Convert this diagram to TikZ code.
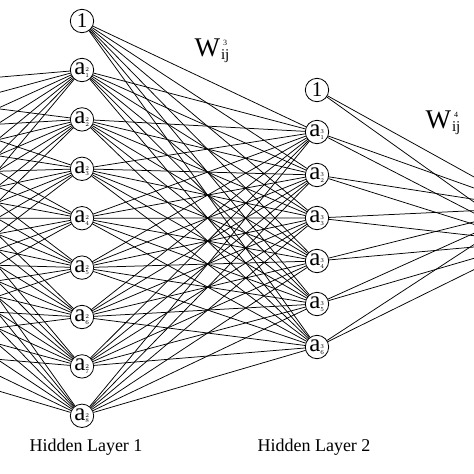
\documentclass[tikz,border=0pt]{standalone}
\usepackage{fontspec}
\setmainfont{Liberation Serif}
\newcommand{\act}[2]{{\fontsize{25}{25}\selectfont a}{\fontsize{8.5}{8.5}\selectfont$^{#1}_{#2}$}}
\newcommand{\wlabel}[1]{W\kern1pt\raisebox{-3pt}{\shortstack[l]{{\fontsize{8}{8}\selectfont\kern2pt #1}\\[1pt]{\fontsize{15}{15}\selectfont ij}}}}
\tikzset{
	neuron/.style={draw,circle,line width=0.8pt,minimum size=23.4pt,inner sep=0pt,fill=white,font=\fontsize{21}{21}\selectfont},
	layerlabel/.style={font=\fontsize{18}{20}\selectfont},
	weightlabel/.style={font=\fontsize{27}{30}\selectfont},
	synapse/.style={line width=0.75pt}
}
\begin{document}
\begin{tikzpicture}[x=1pt,y=-1pt,line cap=round]
		\useasboundingbox (0,0) rectangle (474,474);
		\clip (0,0) rectangle (474,474);
		% input layer and output layer lie outside the frame
		\foreach \k in {0,...,6}
			\coordinate (x\k) at (-150,{90+\k*42.8});
		\coordinate (y1) at (530,208);
		\coordinate (y2) at (530,242);
		% hidden layer 1
		\node[neuron] (hb) at (82,21) {1};
		\foreach \i in {1,...,8}
			\node[neuron] (h\i) at (82,{70+(\i-1)*49.4}) {\act{2}{\i}};
		% hidden layer 2
		\node[neuron] (gb) at (317,90) {1};
		\foreach \j in {1,...,6}
			\node[neuron] (g\j) at (317,{132+(\j-1)*43}) {\act{3}{\j}};
		% connections
		\foreach \k in {0,...,6}{
			\foreach \i in {1,...,8}
				\draw[synapse] (x\k)--(h\i);}
		\foreach \j in {1,...,6}{
			\draw[synapse] (hb)--(g\j);
			\foreach \i in {1,...,8}
				\draw[synapse] (h\i)--(g\j);}
		\foreach \o in {1,2}{
			\draw[synapse] (gb)--(y\o);
			\foreach \j in {1,...,6}
				\draw[synapse] (g\j)--(y\o);}
		% labels
		\node[weightlabel] (w3) at (212,51) {\wlabel{3}};
		\node[weightlabel] (w4) at (443,123) {\wlabel{4}};
		\node[layerlabel] (l1) at (86,447) {Hidden Layer 1};
		\node[layerlabel] (l2) at (314,447) {Hidden Layer 2};
\end{tikzpicture}
\end{document}
